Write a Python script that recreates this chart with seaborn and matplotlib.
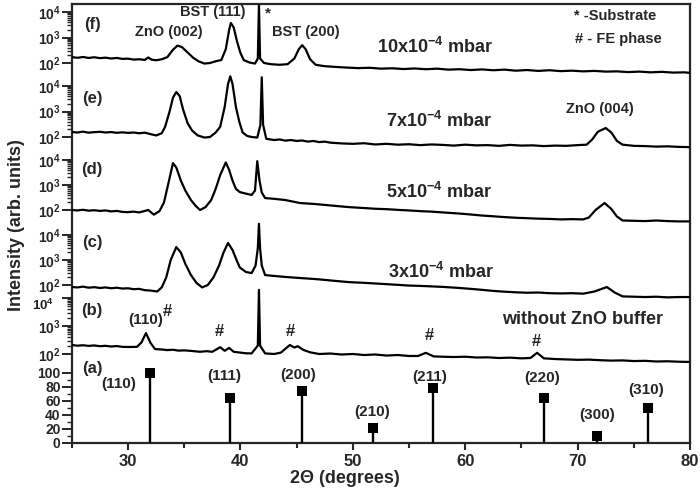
import numpy as np
import pandas as pd
import seaborn as sns
import matplotlib.pyplot as plt
from matplotlib.ticker import LogLocator, FuncFormatter, MultipleLocator, NullFormatter, FixedLocator

# --- data (2theta in degrees, intensity in counts) ---
f_tt = [25, 25.5, 26, 26.5, 27, 27.5, 28, 28.5, 29, 29.5, 30, 30.5, 31, 31.5, 31.8, 32.1, 32.5, 33, 33.5,
        34.0, 34.4, 34.8, 35.3, 35.8, 36.3, 36.8, 37.3, 37.9, 38.3, 38.7, 39.0, 39.15, 39.4, 39.7,
        40.0, 40.3, 40.8, 41.3, 41.55, 41.65, 41.75, 42.1, 42.7, 43.5, 44.2, 44.8, 45.2, 45.5, 45.8,
        46.2, 46.7, 47.5, 48.5, 49.5, 50.5, 51.5, 52.5, 53.5, 54.5, 55.5, 56.5, 57.5, 58.5, 59.5,
        60.5, 61.5, 62.5, 63.5, 64.5, 65.5, 66.5, 67.5, 68.5, 69.5, 70.5, 71.5, 72.5, 73.5, 74.5,
        75.5, 76.5, 77.5, 78.5, 79.5, 80]
f_int = [170, 160, 172, 158, 168, 155, 162, 150, 158, 145, 148, 136, 140, 132, 165, 135, 128, 140, 170,
         330, 480, 420, 260, 160, 115, 95, 100, 120, 130, 350, 2000, 3700, 2500, 700,
         250, 130, 105, 95, 150, 20000, 150, 100, 90, 85, 90, 150, 350, 500, 350,
         140, 85, 75, 70, 66, 63, 65, 60, 62, 58, 61, 57, 60, 55, 57,
         53, 56, 52, 55, 50, 53, 49, 52, 48, 50, 47, 49, 46, 47, 44,
         46, 43, 45, 42, 43, 41]

e_tt = [25, 25.5, 26, 26.5, 27, 27.5, 28, 28.5, 29, 29.5, 30, 30.5, 31, 31.5, 32, 32.5, 33.0, 33.3,
        33.7, 34.0, 34.3, 34.6, 34.9, 35.3, 35.7, 36.2, 36.8, 37.3, 37.8, 38.2, 38.6, 38.9, 39.1,
        39.3, 39.6, 39.9, 40.2, 40.6, 41.0, 41.5, 41.78, 41.9, 42.02, 42.3, 43, 43.5, 44, 44.5, 45,
        45.5, 46, 46.5, 47, 47.5, 48, 49, 50, 51, 52, 53, 54, 55, 56, 57, 58, 59, 60, 61, 62, 63,
        64, 65, 66, 67, 68, 69, 70, 70.8, 71.3, 71.8, 72.5, 73.0, 73.5, 74, 75, 76, 77, 78, 79, 80]
e_int = [157, 150, 162, 148, 155, 160, 150, 156, 146, 152, 145, 150, 140, 148, 130, 115, 140, 250,
         1000, 3500, 5800, 4000, 1200, 350, 180, 115, 95, 100, 150, 250, 1500, 12000, 24000,
         12000, 1500, 400, 150, 110, 100, 95, 300, 22000, 300, 85, 76, 80, 72, 76, 70,
         73, 66, 70, 63, 66, 60, 56, 54, 57, 51, 54, 50, 52, 48, 51, 49, 46, 50, 47, 48, 45,
         49, 46, 47, 44, 46, 45, 48, 50, 80, 160, 225, 150, 70, 50, 45, 44, 42, 43, 41, 40]

d_tt = [25, 25.5, 26, 26.5, 27, 27.5, 28, 28.5, 29, 29.5, 30, 30.5, 31, 31.8, 32.3, 32.8, 33.2, 33.6,
        34.0, 34.3, 34.7, 35.1, 35.6, 36.0, 36.4, 36.9, 37.4, 37.8, 38.2, 38.7, 39.0, 39.3, 39.6,
        39.95, 40.5, 41.0, 41.3, 41.5, 41.7, 41.9, 42.2, 43, 44, 45.3, 46.5, 47.5, 48.5, 49.7, 51,
        52, 53, 54.2, 55, 56, 57, 58, 59.5, 60.5, 61.5, 62.5, 63.5, 64.5, 65.5, 66.5, 67.5, 68.5,
        69.5, 70.5, 71.0, 71.6, 72.4, 73.0, 73.5, 74, 75, 76, 77, 78, 79, 80]
d_int = [100, 96, 102, 94, 98, 92, 96, 88, 92, 84, 82, 86, 80, 100, 65, 90, 200, 1200,
         7500, 5000, 1500, 600, 250, 150, 100, 130, 250, 700, 2500, 8000, 4000, 1500, 700,
         520, 450, 400, 600, 9000, 1500, 500, 300, 280, 250, 190, 175, 160, 145, 130, 120,
         112, 108, 100, 96, 90, 86, 80, 72, 66, 60, 56, 52, 49, 47, 45, 44, 42,
         43, 42, 50, 100, 190, 110, 55, 38, 37, 36, 38, 36, 35, 35]

c_tt = [25, 25.5, 26, 26.5, 27, 27.5, 28, 28.5, 29, 29.5, 30, 30.5, 31, 31.5, 32, 32.6, 33.0, 33.4,
        33.8, 34.3, 34.7, 35.1, 35.6, 36.1, 36.6, 37.1, 37.6, 38.1, 38.5, 38.9, 39.3, 39.7, 39.95,
        40.5, 41.0, 41.35, 41.55, 41.65, 41.75, 41.9, 42.2, 43, 44, 45.3, 46.5, 47.5, 48.5, 49.7,
        51, 52, 53, 54.2, 55, 56, 57, 58, 59.5, 60.5, 61.5, 62.5, 63.5, 64.5, 65.5, 66.5, 67.5,
        68.5, 69.5, 70.5, 71.5, 72.6, 73.3, 74, 75, 76, 77, 78, 79, 80]
c_int = [83, 80, 86, 78, 82, 76, 80, 74, 78, 72, 74, 68, 70, 62, 60, 55, 80, 200,
         1000, 3300, 2000, 700, 250, 120, 80, 100, 200, 600, 2000, 4800, 2500, 900, 500,
         330, 300, 600, 3000, 28000, 3000, 600, 250, 230, 210, 190, 175, 160, 145, 130,
         122, 115, 108, 100, 95, 92, 88, 84, 76, 70, 64, 58, 54, 51, 49, 50, 47,
         46, 47, 45, 55, 83, 50, 35, 34, 33, 34, 32, 33, 33]

b_tt = [25, 25.5, 26, 26.5, 27, 27.5, 28, 28.5, 29, 29.5, 30, 30.8, 31.2, 31.6, 32.0, 32.4, 33, 33.5,
        34, 34.5, 35, 35.7, 36.4, 37, 37.5, 38.2, 38.6, 39.0, 39.4, 40, 40.5, 41, 41.55, 41.65,
        41.75, 42.2, 43, 43.6, 44.4, 44.8, 45.1, 45.6, 46.2, 47, 48, 49, 50, 51, 52, 53, 54, 55,
        55.8, 56.5, 57.2, 58, 59, 60, 61, 62, 63, 64, 65, 65.8, 66.4, 67, 68, 69, 70, 71, 72, 73,
        74, 75, 76, 77, 78, 79, 80]
b_int = [210, 198, 205, 195, 202, 190, 196, 185, 192, 180, 178, 180, 260, 560, 250, 150, 145, 138,
         142, 132, 135, 128, 120, 126, 120, 175, 130, 165, 120, 112, 106, 105, 200, 19500,
         200, 105, 100, 112, 210, 170, 190, 140, 115, 100, 104, 96, 100, 92, 96, 88, 92, 85,
         85, 110, 82, 80, 78, 80, 75, 76, 72, 74, 70, 72, 110, 70, 66, 64, 62, 63, 60, 58,
         59, 56, 57, 54, 55, 53, 52]

# stick pattern (a): reference BST lines
a_tt = [32.0, 39.1, 45.5, 51.8, 57.1, 67.0, 71.7, 76.3]
a_rel = [100, 64, 74, 21, 79, 64, 10, 50]
a_hkl = ['(110)', '(111)', '(200)', '(210)', '(211)', '(220)', '(300)', '(310)']

panel_names = ['f', 'e', 'd', 'c', 'b']
panel_tt = [f_tt, e_tt, d_tt, c_tt, b_tt]
panel_int = [f_int, e_int, d_int, c_int, b_int]

# --- style ---
sns.set_style('ticks')
plt.rcParams['font.family'] = ['Liberation Sans', 'DejaVu Sans']
plt.rcParams['font.weight'] = 'bold'
plt.rcParams['mathtext.fontset'] = 'custom'
plt.rcParams['mathtext.rm'] = 'Liberation Sans:bold'
plt.rcParams['mathtext.it'] = 'Liberation Sans:bold'
plt.rcParams['mathtext.bf'] = 'Liberation Sans:bold'

W, H = 700, 497
fig = plt.figure(figsize=(W / 100, H / 100), dpi=100)
X0, X1, Y_TOP, Y_BOT = 71.8, 690.0, 4.0, 443.0


def fy(px):
    return (H - px) / H


# main frame carrying the 2theta axis
ax = fig.add_axes([X0 / W, fy(Y_BOT), (X1 - X0) / W, (Y_BOT - Y_TOP) / H])
ax.set_xlim(25, 80)
ax.set_ylim(0, 1)
ax.set_yticks([])
ax.xaxis.set_major_locator(MultipleLocator(10))
ax.xaxis.set_minor_locator(MultipleLocator(5))
ax.tick_params(axis='x', which='major', direction='out', length=5, width=1.5, labelsize=12, pad=3)
ax.tick_params(axis='x', which='minor', direction='out', length=3.5, width=1.5)
for s in ax.spines.values():
    s.set_linewidth(1.6)
ax.set_xlabel('2Θ (degrees)', fontsize=13, fontweight='bold')
ax.xaxis.set_label_coords(0.442, -0.0615)
ax.set_ylabel('Intensity (arb. units)', fontsize=13, fontweight='bold')
ax.yaxis.set_label_coords(-0.076, 0.497)

# pixel rows of 10^2 and 10^4 for each log panel
panel_pos = {'f': (63, 12), 'e': (137, 86), 'd': (210, 160), 'c': (285, 235), 'b': (354, 298)}

log_fmt = FuncFormatter(lambda v, p: r'$10^{%d}$' % int(round(np.log10(v))))

for name, tt, inten in zip(panel_names, panel_tt, panel_int):
    y_lo, y_hi = panel_pos[name]
    axp = fig.add_axes([X0 / W, fy(y_lo), (X1 - X0) / W, (y_lo - y_hi) / H])
    axp.patch.set_visible(False)
    for s in axp.spines.values():
        s.set_visible(False)
    df = pd.DataFrame({'tt': tt, 'I': inten})
    sns.lineplot(data=df, x='tt', y='I', ax=axp, color='black', lw=1.6,
                 estimator=None, sort=False)
    axp.set_yscale('log')
    axp.set_ylim(1e2, 1e4)
    axp.set_xlim(25, 80)
    axp.set_xlabel('')
    axp.set_ylabel('')
    axp.tick_params(axis='x', bottom=False, labelbottom=False)
    axp.yaxis.set_major_locator(LogLocator(base=10, numticks=5))
    axp.yaxis.set_minor_locator(LogLocator(base=10, subs=np.arange(2, 10), numticks=10))
    axp.yaxis.set_major_formatter(log_fmt)
    axp.yaxis.set_minor_formatter(NullFormatter())
    axp.tick_params(axis='y', which='major', direction='out', length=7, width=1.4,
                    labelsize=10, pad=1)
    axp.tick_params(axis='y', which='minor', direction='out', length=3.5, width=1.0)
    for ln in axp.lines:
        ln.set_clip_path(ax.patch)
    if name == 'b':
        # the 10^4 label of (b) nearly touches the 10^2 label of (c): draw it by hand,
        # nudged a little lower, and leave only the tick mark on the axis
        axp.yaxis.set_major_locator(FixedLocator([1e2, 1e3, 1e4]))
        axp.yaxis.set_major_formatter(FuncFormatter(
            lambda v, p: '' if v > 5e3 else r'$10^{%d}$' % int(round(np.log10(v)))))
        axp.text(-0.0285, 1.0, r'$10^{4}$', transform=axp.transAxes, fontsize=9.5,
                 ha='right', va='top')

# stick panel (a)
axa = fig.add_axes([X0 / W, fy(443), (X1 - X0) / W, 70 / H])
axa.patch.set_visible(False)
for s in axa.spines.values():
    s.set_visible(False)
axa.vlines(a_tt, 0, a_rel, color='black', lw=1.7)
sns.scatterplot(x=a_tt, y=a_rel, ax=axa, marker='s', s=42, color='black',
                edgecolor='black', linewidth=0, zorder=3, clip_on=False)
axa.set_xlim(25, 80)
axa.set_ylim(0, 100)
axa.tick_params(axis='x', bottom=False, labelbottom=False)
axa.yaxis.set_major_locator(MultipleLocator(20))
axa.yaxis.set_minor_locator(MultipleLocator(10))
axa.tick_params(axis='y', which='major', direction='out', length=7, width=1.4, labelsize=10, pad=1)
axa.tick_params(axis='y', which='minor', direction='out', length=3.5, width=1.0)

# --- annotations (x in 2theta, y as pixel row converted to frame fraction) ---
tr = ax.get_xaxis_transform()


def note(x, ypx, s, size=11, va='center', ha='center'):
    ax.text(x, (Y_BOT - ypx) / (Y_BOT - Y_TOP), s, transform=tr, fontsize=size,
            fontweight='bold', ha=ha, va=va)


for lab, ypx in zip(['(f)', '(e)', '(d)', '(c)', '(b)', '(a)'], [25, 99, 170, 243, 310, 368]):
    note(26.8, ypx, lab, size=12)

note(33.6, 32, 'ZnO (002)', 10.5)
note(37.5, 12, 'BST (111)', 10.5)
note(42.45, 13, '*', 11)
note(45.8, 32, 'BST (200)', 10.5)
note(72.0, 109, 'ZnO (004)', 10.5)
note(73.3, 16, '* -Substrate', 10.5)
note(73.6, 39, '# - FE phase', 10.5)

note(57.3, 53, r'10x10$^{-4}$ mbar', 13, va='baseline')
note(57.7, 127, r'7x10$^{-4}$ mbar', 13, va='baseline')
note(57.7, 198, r'5x10$^{-4}$ mbar', 13, va='baseline')
note(57.8, 278, r'3x10$^{-4}$ mbar', 13, va='baseline')
note(70.4, 319, 'without ZnO buffer', 13)

note(31.6, 320, '(110)', 11)
note(33.5, 312, '#', 12)
for x, ypx in [(38.1, 331), (44.4, 331), (56.8, 335), (66.3, 341)]:
    note(x, ypx, '#', 12)

stick_lab_pos = [(29.2, 384), (38.6, 376), (45.1, 375), (51.7, 412),
                 (56.8, 377), (66.8, 378), (71.7, 415), (76.1, 390)]
for hkl, (x, ypx) in zip(a_hkl, stick_lab_pos):
    note(x, ypx, hkl, 11)

fig.savefig('out.png', dpi=100)
